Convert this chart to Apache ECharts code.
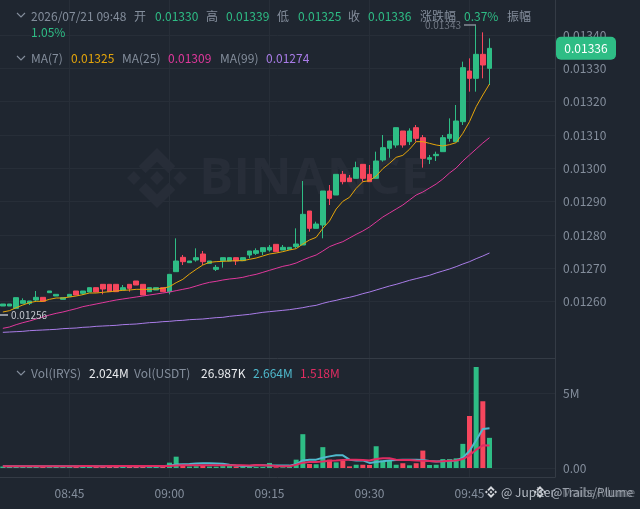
<!DOCTYPE html>
<html><head><meta charset="utf-8">
<style>html,body{margin:0;padding:0;background:#1f2630}#c{width:640px;height:509px}</style>
<script src="https://cdn.jsdelivr.net/npm/echarts@6/dist/echarts.min.js"></script>
</head><body><div id="c"></div>
<script>
const opens=[.012587,.012587,.012580,.012595,.012595,.012605,.012613,.012627,.012617,.012607,.012615,.012632,.012625,.012629,.012642,.012652,.012652,.012652,.012635,.012652,.012662,.012652,.012630,.012635,.012642,.012630,.012690,.012733,.012717,.012725,.012743,.012715,.012697,.012723,.012722,.012732,.012723,.012740,.012745,.012750,.012755,.012772,.012755,.012757,.012765,.012770,.012872,.012820,.012830,.012932,.012920,.012982,.012971,.012970,.013012,.012982,.012970,.013025,.013060,.013070,.013112,.013080,.013122,.013092,.013027,.013038,.013050,.013090,.013080,.013140,.013292,.013270,.013342,.013300];
const closes=[.012593,.012593,.012612,.012603,.012602,.012613,.012601,.012632,.012622,.012612,.012622,.012620,.012632,.012642,.012629,.012638,.012630,.012630,.012642,.012640,.012650,.012620,.012642,.012642,.012630,.012682,.012722,.012720,.012722,.012732,.012720,.012722,.012703,.012732,.012732,.012722,.012732,.012752,.012753,.012762,.012763,.012750,.012763,.012763,.012773,.012862,.012820,.012833,.012932,.012910,.012982,.012960,.012960,.013002,.012970,.012960,.013022,.013062,.013082,.013122,.013070,.013112,.013090,.013030,.013032,.013042,.013092,.013102,.013142,.013302,.013270,.013342,.013310,.013360];
const lows=[.012587,.012587,.012580,.012595,.012590,.012602,.012601,.012627,.012617,.012607,.012615,.012620,.012620,.012629,.012629,.012622,.012630,.012630,.012635,.012630,.012650,.012620,.012630,.012635,.012630,.012622,.012690,.012710,.012717,.012720,.012710,.012715,.012692,.012702,.012722,.012710,.012723,.012730,.012740,.012740,.012750,.012750,.012755,.012757,.012760,.012770,.012810,.012820,.012790,.012890,.012920,.012952,.012960,.012970,.012960,.012960,.012970,.013020,.013032,.013062,.013062,.013070,.013080,.013002,.013013,.013022,.013050,.013080,.013080,.013130,.013230,.013230,.013270,.013250];
const highs=[.012593,.012593,.012612,.012610,.012602,.012632,.012613,.012632,.012622,.012612,.012622,.012632,.012632,.012642,.012642,.012652,.012652,.012652,.012650,.012652,.012662,.012652,.012642,.012642,.012642,.012682,.012790,.012740,.012722,.012760,.012752,.012722,.012710,.012732,.012732,.012732,.012732,.012752,.012760,.012762,.012770,.012772,.012770,.012763,.012820,.012962,.012872,.012840,.012932,.012950,.012982,.012992,.012980,.013020,.013012,.013010,.013050,.013100,.013082,.013122,.013112,.013120,.013130,.013100,.013040,.013050,.013100,.013150,.013190,.013320,.013330,.013430,.013408,.013390];
const ma7=[.012569,.012573,.012582,.012590,.012597,.012601,.012601,.012607,.012611,.012611,.012614,.012617,.012621,.012626,.012626,.012628,.012630,.012632,.012634,.012635,.012637,.012637,.012637,.012638,.012640,.012645,.012657,.012667,.012683,.012697,.012710,.012718,.012720,.012721,.012722,.012723,.012723,.012727,.012731,.012737,.012743,.012746,.012750,.012755,.012759,.012773,.012785,.012793,.012820,.012842,.012878,.012901,.012913,.012940,.012960,.012963,.012977,.012999,.013015,.013033,.013039,.013057,.013080,.013080,.013075,.013070,.013067,.013071,.013077,.013105,.013140,.013185,.013220,.013253];
const ma25=[.012520,.012524,.012531,.012537,.012542,.012548,.012554,.012560,.012565,.012569,.012574,.012579,.012585,.012589,.012593,.012597,.012601,.012605,.012608,.012611,.012614,.012617,.012620,.012623,.012626,.012629,.012633,.012637,.012641,.012647,.012653,.012658,.012661,.012665,.012668,.012670,.012673,.012678,.012682,.012688,.012694,.012700,.012706,.012710,.012716,.012725,.012733,.012740,.012752,.012765,.012773,.012780,.012791,.012802,.012812,.012824,.012839,.012854,.012866,.012878,.012890,.012905,.012920,.012929,.012941,.012953,.012968,.012986,.013001,.013022,.013040,.013058,.013076,.013092];
const ma99=[.012508,.012509,.012510,.012511,.012513,.012514,.012515,.012516,.012517,.012519,.012520,.012521,.012523,.012524,.012526,.012527,.012528,.012529,.012531,.012532,.012533,.012535,.012537,.012538,.012540,.012541,.012543,.012544,.012546,.012547,.012548,.012550,.012552,.012553,.012556,.012558,.012560,.012562,.012565,.012568,.012570,.012572,.012574,.012576,.012579,.012582,.012586,.012589,.012595,.012600,.012604,.012609,.012613,.012618,.012624,.012629,.012635,.012641,.012647,.012652,.012658,.012664,.012669,.012674,.012679,.012686,.012692,.012698,.012705,.012713,.012720,.012729,.012737,.012746];
const volumes=[.10,.08,.14,.07,.09,.11,.08,.06,.09,.07,.10,.12,.09,.08,.07,.10,.09,.11,.08,.07,.13,.10,.06,.08,.09,.36,.76,.18,.10,.12,.14,.10,.09,.13,.16,.10,.12,.09,.07,.07,.34,.05,.05,.07,.56,2.27,.27,.25,1.40,.56,.38,.50,.11,.22,.22,.20,1.46,.50,.50,.22,.32,.18,.32,1.17,.20,.22,.60,.60,.65,1.62,3.49,6.78,4.48,2.024];
const volMaA=[.11,.11,.12,.11,.11,.11,.12,.11,.11,.11,.11,.12,.12,.11,.11,.11,.12,.12,.11,.12,.13,.12,.12,.12,.12,.16,.24,.26,.27,.30,.32,.32,.31,.29,.22,.17,.14,.14,.18,.18,.16,.16,.16,.16,.25,.51,.56,.56,.69,.78,.85,.85,.56,.51,.51,.34,.40,.45,.51,.54,.56,.56,.56,.54,.47,.43,.45,.47,.51,.69,1.14,1.86,2.62,2.664];
const volMaB=[.12,.12,.12,.12,.12,.12,.12,.12,.12,.12,.12,.12,.13,.13,.12,.12,.13,.13,.13,.13,.14,.13,.13,.13,.13,.14,.17,.18,.18,.18,.18,.19,.19,.19,.19,.19,.18,.17,.20,.18,.16,.13,.11,.11,.22,.36,.40,.40,.43,.49,.51,.54,.56,.56,.54,.51,.60,.65,.65,.56,.54,.54,.51,.49,.47,.43,.45,.49,.51,.60,.85,1.23,1.52,1.518];
const priceTicks=[.0126,.0127,.0128,.0129,.013,.0131,.0132,.0133,.0134];
const volTicks=[0,5];
const timeTicks=['08:45','09:00','09:15','09:30','09:45'];
const firstTime=[8,35];
const highLabel=.01343, lowLabel=.01256, lastPrice=.01336;

const FONT='"Noto Sans CJK SC","Noto Sans",sans-serif';
const UP='#2ebd85',DOWN='#f6465d',GREY='#848e9c',BG='#1f2630',GRID='#272e38',LINE='#343b45';
const GOLD='#e5a50a',PINK='#e0389c',PURPLE='#a97ce8',CYAN='#4fb9cc',ROSE='#e02c62';
const minuteOf=s=>{const[h,m]=s.split(':').map(Number);return h*60+m;};
const t0=firstTime[0]*60+firstTime[1];
const times=opens.map((_,i)=>t0+i);
const pxPerMin=100/15;
const xMin=t0-2.83/pxPerMin, xMax=xMin+555/pxPerMin;
const tickTimes=timeTicks.map(minuteOf);
const pad=n=>String(n).padStart(2,'0');
const fmtTime=v=>pad(Math.floor(v/60))+':'+pad(Math.round(v%60));

const chart=echarts.init(document.getElementById('c'),null,{renderer:'canvas'});
const xBase=(gi,labels)=>({type:'value',gridIndex:gi,min:xMin,max:xMax,
  axisLine:{show:true,onZero:false,lineStyle:{color:LINE}},axisTick:{show:false,customValues:tickTimes},
  splitLine:{show:true,lineStyle:{color:GRID,width:1}},
  axisLabel:{show:labels,customValues:tickTimes,color:GREY,fontSize:12,fontFamily:FONT,margin:10,formatter:fmtTime,hideOverlap:false},
  axisPointer:{show:false}});
const line=(name,data,color,xi,yi,w)=>({name,type:'line',xAxisIndex:xi,yAxisIndex:yi,data:times.map((t,i)=>[t,data[i]]),showSymbol:false,symbol:'none',smooth:false,lineStyle:{color,width:w},z:5,silent:true,animation:false});

chart.setOption({animation:false,backgroundColor:BG,
  grid:[{left:0,right:85,top:0,height:358},{left:0,right:85,top:358,height:119}],
  xAxis:[xBase(0,false),xBase(1,true)],
  yAxis:[
   {type:'value',gridIndex:0,position:'right',min:.0124310,max:.0135050,
    axisLine:{show:true,lineStyle:{color:LINE}},axisTick:{show:false,customValues:priceTicks},
    splitLine:{show:true,lineStyle:{color:GRID}},
    axisLabel:{customValues:priceTicks,color:GREY,fontSize:12,fontFamily:FONT,margin:8,formatter:v=>v.toFixed(5)}},
   {type:'value',gridIndex:1,position:'right',min:-.604,max:7.383,
    axisLine:{show:true,lineStyle:{color:LINE}},axisTick:{show:false,customValues:volTicks},
    splitLine:{show:true,lineStyle:{color:GRID}},
    axisLabel:{customValues:volTicks,color:GREY,fontSize:12,fontFamily:FONT,margin:8,formatter:v=>v===0?'0.00':v+'M'}}],
  series:[
   {name:'K',type:'candlestick',xAxisIndex:0,yAxisIndex:0,barWidth:5,clip:false,
    data:times.map((t,i)=>[t,opens[i],closes[i],lows[i],highs[i]]),
    encode:{x:0,y:[1,2,3,4]},
    itemStyle:{color:UP,color0:DOWN,borderColor:UP,borderColor0:DOWN,borderWidth:1},z:3},
   line('MA(7)',ma7,GOLD,0,0,1),line('MA(25)',ma25,PINK,0,0,1),line('MA(99)',ma99,PURPLE,0,0,1),
   {name:'Vol',type:'bar',xAxisIndex:1,yAxisIndex:1,barWidth:5,clip:false,
    data:times.map((t,i)=>({value:[t,volumes[i]],itemStyle:{color:closes[i]>=opens[i]?UP:DOWN}})),z:3},
   line('Vol MA A',volMaA,CYAN,1,1,2),line('Vol MA B',volMaB,ROSE,1,1,2)
  ]});

const txt=(text,x,y,fill,extra)=>({type:'text',z:100,silent:true,style:Object.assign({text,x,y,fill,font:'12px '+FONT,textVerticalAlign:'middle'},extra||{})});
const chev=(x,y)=>({type:'polyline',z:100,silent:true,shape:{points:[[x-4,y-2],[x,y+2],[x+4,y-2]]},style:{stroke:GREY,lineWidth:1.1,fill:'none'}});
function logoParts(cx,cy,r,fill,z){
  const poly=(pts)=>({type:'polygon',z,silent:true,shape:{points:pts.map(p=>[cx+p[0]*r,cy+p[1]*r])},style:{fill}});
  const dia=(x,y,h)=>poly([[x,y-h],[x+h,y],[x,y+h],[x-h,y]]);
  return [poly([[0,-1],[.61,-.39],[.38,-.16],[0,-.54],[-.38,-.16],[-.61,-.39]]),
          poly([[0,1],[.61,.39],[.38,.16],[0,.54],[-.38,.16],[-.61,.39]]),
          dia(0,0,.23),dia(-.77,0,.23),dia(.77,0,.23)];
}
const yP=v=>chart.convertToPixel({yAxisIndex:0},v);
const tagY=yP(lastPrice), hiY=yP(highLabel), loY=yP(lowLabel);
const mark='#868c96';
chart.setOption({graphic:{elements:[
  ...logoParts(157,178,30,'#272d38',1),
  {type:'text',z:1,silent:true,style:{text:'BINANCE',x:199,y:179,fill:'#272d38',font:'bold 51px "Open Sans","Noto Sans",sans-serif',textVerticalAlign:'middle'}},
  chev(21,15),chev(21,58),chev(21,373),
  txt('2026/07/21 09:48',31,16,GREY),
  txt('开',134,16,GREY),txt('0.01330',155,16,UP),
  txt('高',206,16,GREY),txt('0.01339',226,16,UP),
  txt('低',277,16,GREY),txt('0.01325',298,16,UP),
  txt('收',348,16,GREY),txt('0.01336',368,16,UP),
  txt('涨跌幅',420,16,GREY),txt('0.37%',464,16,UP),
  txt('振幅',507,16,GREY),txt('1.05%',31,32,UP),
  txt('MA(7)',31,58,GREY),txt('0.01325',71,58,GOLD),
  txt('MA(25)',122,58,GREY),txt('0.01309',168,58,PINK),
  txt('MA(99)',220,58,GREY),txt('0.01274',266,58,PURPLE),
  txt('Vol(IRYS)',31,373,GREY),txt('2.024M',89,373,'#eaecef'),
  txt('Vol(USDT)',134,373,GREY),txt('26.987K',201,373,'#eaecef'),
  txt('2.664M',253,373,CYAN),txt('1.518M',300,373,ROSE),
  {type:'rect',z:100,silent:true,shape:{x:464,y:hiY-.75,width:12,height:1.5},style:{fill:mark}},
  txt('0.01343',461,hiY,'#717884',{textAlign:'right',font:'10px '+FONT}),
  {type:'rect',z:100,silent:true,shape:{x:0,y:loY-.75,width:8,height:1.5},style:{fill:'#b7bdc6'}},
  txt('0.01256',11,loY,'#c4c8cf',{font:'10px '+FONT}),
  {type:'rect',z:101,silent:true,shape:{x:556,y:tagY-11.5,width:60,height:23,r:5},style:{fill:UP}},
  {type:'text',z:102,silent:true,style:{text:lastPrice.toFixed(5),x:586,y:tagY,fill:'#ffffff',font:'12px '+FONT,textAlign:'center',textVerticalAlign:'middle'}},
  ...logoParts(491,492,6,'#d5d8dd',100),...logoParts(540,492,6,'#d5d8dd',100),
  txt('@ Jupiter',501,492,'#b7bdc6'),
  txt('@Trails/Plume',551,492,'#9aa0aa'),
  txt('@Maibs/Vlume',551,492,'#9aa0aa',{opacity:.6})
]}});
</script></body></html>
